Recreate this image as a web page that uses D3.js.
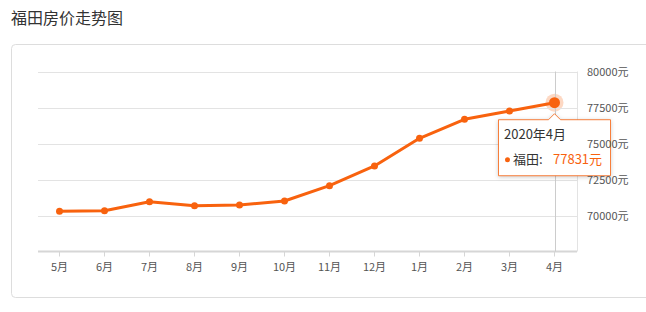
<!DOCTYPE html>
<html>
<head>
<meta charset="utf-8">
<script src="https://cdn.jsdelivr.net/npm/d3@7"></script>
<style>
  html, body { margin: 0; padding: 0; background: #fff; }
  body { width: 646px; height: 312px; overflow: hidden; font-family: "Noto Sans CJK SC", "Noto Sans", sans-serif; }
</style>
</head>
<body>
<svg id="chart" width="646" height="312"></svg>
<script>
// Данные графика
const months = ['5月', '6月', '7月', '8月', '9月', '10月', '11月', '12月', '1月', '2月', '3月', '4月'];
const prices = [70290, 70330, 70960, 70680, 70730, 71010, 72070, 73440, 75360, 76680, 77260, 77831];
const yTicks = [70000, 72500, 75000, 77500, 80000];
const hoverIndex = 11;
const hoverLabel = '2020年4月';
const seriesName = '福田';

const orange = '#f8620e';
const svg = d3.select('#chart');

// Заголовок
svg.append('text')
    .attr('x', 11)
    .attr('y', 24)
    .attr('font-size', 16)
    .attr('fill', '#333')
    .text('福田房价走势图');

// Рамка панели
svg.append('rect')
    .attr('x', 11.5)
    .attr('y', 44.5)
    .attr('width', 642)
    .attr('height', 253)
    .attr('rx', 4)
    .attr('fill', '#fff')
    .attr('stroke', '#ddd');

// Шкалы
const x = d3.scaleBand().domain(months).range([37, 577]);
const cx = d => x(d) + x.bandwidth() / 2;
const y = d3.scaleLinear().domain([67500, 80000]).range([251.5, 71.5]);

const g = svg.append('g');

// Сетка
g.selectAll('.grid')
    .data(yTicks)
    .join('line')
    .attr('x1', 38)
    .attr('x2', 577)
    .attr('y1', d => Math.round(y(d)) + 0.5)
    .attr('y2', d => Math.round(y(d)) + 0.5)
    .attr('stroke', '#e3e3e3');

// Правая граница области
g.append('line')
    .attr('x1', 577.5).attr('x2', 577.5)
    .attr('y1', y(80000)).attr('y2', y(67500))
    .attr('stroke', '#e3e3e3');

// Ось X
const xAxis = g.append('g')
    .attr('transform', `translate(0,${y(67500)})`)
    .call(d3.axisBottom(x).tickSize(5).tickSizeOuter(0));
xAxis.select('.domain').attr('stroke', '#d6d6d6').attr('stroke-width', 2)
    .attr('d', 'M38,0H577');
xAxis.selectAll('.tick line').attr('stroke', '#d6d6d6');
xAxis.selectAll('.tick text')
    .attr('dy', 11)
    .attr('font-size', 11)
    .attr('fill', '#555')
    .attr('font-family', '"Noto Sans CJK SC", sans-serif');

// Вертикальная линия подсказки
g.append('line')
    .attr('x1', Math.round(cx(months[hoverIndex])) + 0.5)
    .attr('x2', Math.round(cx(months[hoverIndex])) + 0.5)
    .attr('y1', y(80000)).attr('y2', y(67500))
    .attr('stroke', '#ccc');

// Линия
const line = d3.line()
    .x((d, i) => cx(months[i]))
    .y(d => y(d));

g.append('path')
    .datum(prices)
    .attr('d', line)
    .attr('fill', 'none')
    .attr('stroke', orange)
    .attr('stroke-width', 3)
    .attr('stroke-linejoin', 'round');

g.selectAll('.pt')
    .data(prices)
    .join('circle')
    .attr('cx', (d, i) => cx(months[i]))
    .attr('cy', d => y(d))
    .attr('r', (d, i) => i === hoverIndex ? 5.5 : 3.5)
    .attr('fill', orange);

// Подсветка активной точки
g.append('circle')
    .attr('cx', cx(months[hoverIndex]))
    .attr('cy', y(prices[hoverIndex]))
    .attr('r', 9)
    .attr('fill', orange)
    .attr('opacity', 0.25)
    .lower();

// Подсказка
const tx = cx(months[hoverIndex]);
const ty = y(prices[hoverIndex]) + 17;
const tip = svg.append('g');
const bx = 498.5, bw = 112, bh = 56;
tip.append('path')
    .attr('d', `M${bx},${ty} H${tx - 6} L${tx},${ty - 6} L${tx + 6},${ty} H${bx + bw} V${ty + bh} H${bx} Z`)
    .attr('fill', '#fff')
    .attr('stroke', orange)
    .attr('stroke-opacity', 0.8)
    .attr('stroke-linejoin', 'round')
    .style('filter', 'drop-shadow(0 1px 2px rgba(0,0,0,0.2))');

// Ось Y справа (поверх подсказки, подпись просвечивает как в оригинале)
const yAxis = svg.append('g')
    .attr('transform', 'translate(587,0)')
    .call(d3.axisRight(y).tickValues(yTicks).tickSize(0).tickFormat(d => d + '元'));
yAxis.select('.domain').remove();
yAxis.selectAll('.tick text')
    .attr('x', 0)
    .attr('font-size', 11)
    .attr('fill', '#555')
    .attr('font-family', '"Noto Sans CJK SC", sans-serif');

const tipText = svg.append('g');
tipText.append('text')
    .attr('x', 504)
    .attr('y', ty + 19)
    .attr('font-size', 13)
    .attr('fill', '#333')
    .text(hoverLabel);
tipText.append('circle')
    .attr('cx', 507.5)
    .attr('cy', ty + 40)
    .attr('r', 2.5)
    .attr('fill', orange);
tipText.append('text')
    .attr('x', 513)
    .attr('y', ty + 44)
    .attr('font-size', 13)
    .attr('fill', '#333')
    .text(seriesName + ':');
tipText.append('text')
    .attr('x', 553)
    .attr('y', ty + 44)
    .attr('font-size', 13)
    .attr('fill', orange)
    .text(prices[hoverIndex] + '元');
</script>
</body>
</html>
